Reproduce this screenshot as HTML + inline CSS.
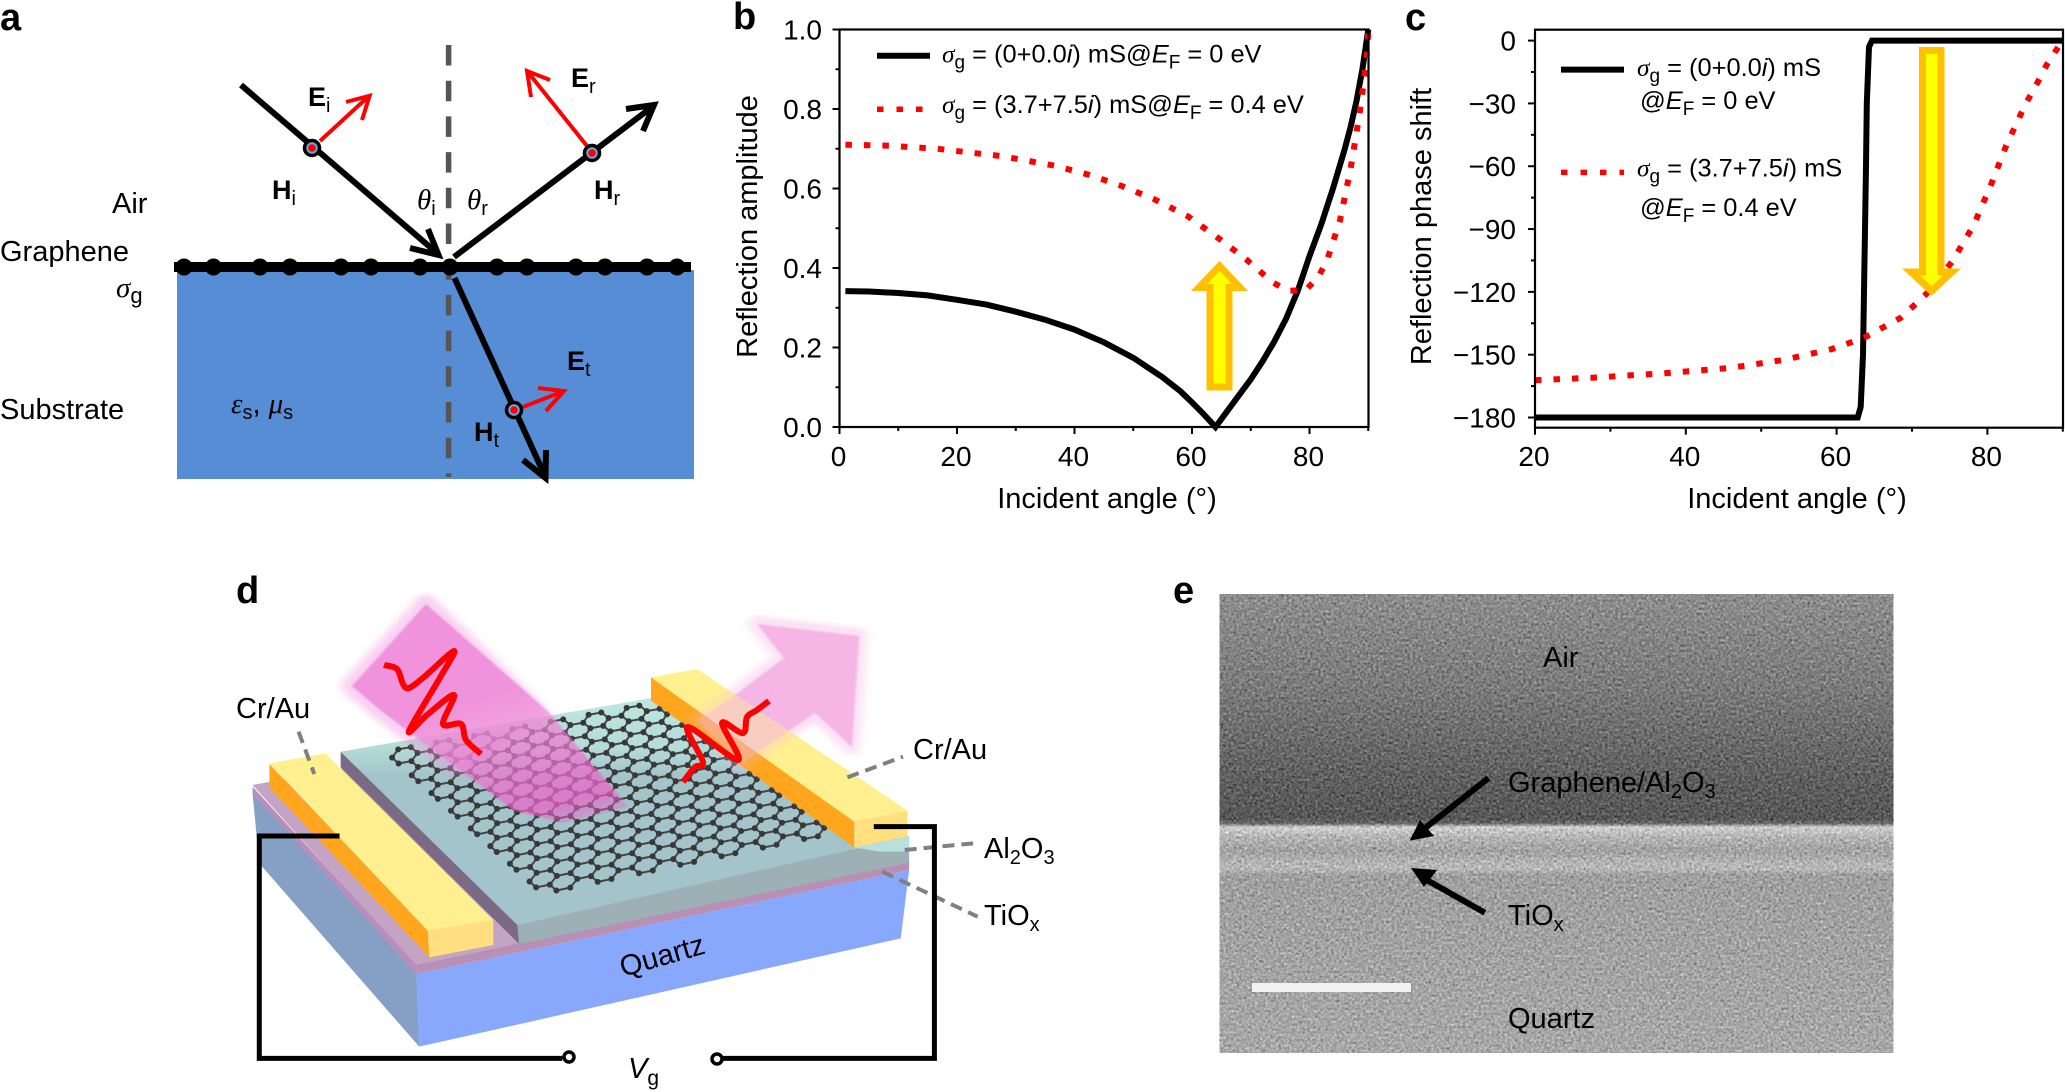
<!DOCTYPE html>
<html lang="en">
<head>
<meta charset="utf-8">
<title>Graphene reflection figure</title>
<style>
html,body{margin:0;padding:0;background:#fff;}
svg{display:block;}
text{font-family:"Liberation Sans",sans-serif;fill:#000;}
.s{font-family:"Liberation Serif",serif;font-style:italic;}
.i{font-style:italic;}
.lab{font-size:38px;font-weight:bold;}
.t{font-size:29px;}
.e{font-size:27px;font-weight:bold;}
.tick{font-size:28px;}
.leg{font-size:25.4px;}
</style>
</head>
<body>
<svg xmlns="http://www.w3.org/2000/svg" width="2065" height="1092" viewBox="0 0 2065 1092">
<defs>
<filter id="halo" x="-30%" y="-30%" width="160%" height="160%"><feGaussianBlur stdDeviation="9 6"/></filter>
<filter id="soft" x="-10%" y="-10%" width="120%" height="120%"><feGaussianBlur stdDeviation="2 2.5"/></filter>
<linearGradient id="beam" gradientUnits="userSpaceOnUse" x1="370" y1="100" x2="690" y2="780">
<stop offset="0" stop-color="#f093dc"/><stop offset=".4" stop-color="#f093dc"/><stop offset=".5" stop-color="#ee88d6" stop-opacity=".7"/><stop offset=".86" stop-color="#ea62c8" stop-opacity=".74"/><stop offset="1" stop-color="#ea62c8" stop-opacity="0"/>
</linearGradient>
<linearGradient id="alo" gradientUnits="userSpaceOnUse" x1="0" y1="400" x2="0" y2="620">
<stop offset="0" stop-color="#bce6df"/><stop offset=".6" stop-color="#b4dcd8"/><stop offset="1" stop-color="#a2c4ca"/>
</linearGradient>
<linearGradient id="sem" x1="0" y1="0" x2="0" y2="1">
<stop offset="0" stop-color="#8e8e8e"/><stop offset=".2" stop-color="#7c7c7c"/><stop offset=".4" stop-color="#606060"/><stop offset=".49" stop-color="#585858"/><stop offset=".5" stop-color="#6a6a6a"/><stop offset=".508" stop-color="#d0d0d0"/><stop offset=".53" stop-color="#b5b5b5"/><stop offset=".56" stop-color="#a2a2a2"/><stop offset=".585" stop-color="#b5b5b5"/><stop offset=".6" stop-color="#b8b8b8"/><stop offset=".612" stop-color="#a0a0a0"/><stop offset="1" stop-color="#a8a8a8"/>
</linearGradient>
<filter id="grain" x="0" y="0" width="100%" height="100%" color-interpolation-filters="sRGB">
<feTurbulence type="fractalNoise" baseFrequency=".38" numOctaves="2" seed="4" result="n"/>
<feColorMatrix in="n" type="matrix" values=".33 .33 .33 0 0 .33 .33 .33 0 0 .33 .33 .33 0 0 0 0 0 0 1" result="g"/>
<feComposite in="SourceGraphic" in2="g" operator="arithmetic" k1="0" k2="1" k3=".8" k4="-.4"/>
</filter>
</defs>

<!-- PANEL A -->
<g id="panel-a">
<text class="lab" x="0" y="30">a</text>
<rect x="177" y="270" width="517" height="209" fill="#568dd5"/>
<line x1="448.6" y1="45" x2="448.6" y2="477" stroke="#555" stroke-width="5.5" stroke-dasharray="20.5 15.2"/>
<line x1="174" y1="267" x2="691" y2="267" stroke="#000" stroke-width="10"/>
<g id="graphene-dots" fill="#000"></g>
<g fill="none" stroke="#000" stroke-width="6">
<path d="M241 85L437 253"/>
<path d="M410 248L438.500 255L428 229"/>
<path d="M454 257L652 107"/>
<path d="M626 109L654 105L643 131"/>
<path d="M454.500 278L545 476"/>
<path d="M523 460L545.500 478L546 450"/>
</g>
<g fill="none" stroke="#f00" stroke-width="4">
<path d="M320 141L369 96M346 102L369.600 95.700L362 120"/>
<path d="M587 146L527 71M550 80L527 71L531 97"/>
<path d="M523 407L564 391M538 388L564 391L546 411"/>
</g>
<g stroke="#000" stroke-width="3.500">
<circle cx="312" cy="148" r="7.500" fill="#6ea6e0"/>
<circle cx="592" cy="153" r="7.500" fill="#6ea6e0"/>
<circle cx="514" cy="410" r="7.500" fill="#6ea6e0"/>
</g>
<circle cx="312" cy="148" r="3.800" fill="#f00"/>
<circle cx="592" cy="153" r="3.800" fill="#f00"/>
<circle cx="514" cy="410" r="3.800" fill="#f00"/>
<text class="e" x="308" y="106">E<tspan dy="6" font-size="20" font-weight="normal">i</tspan></text>
<text class="e" x="571" y="87">E<tspan dy="6" font-size="20" font-weight="normal">r</tspan></text>
<text class="e" x="567" y="370">E<tspan dy="6" font-size="20" font-weight="normal">t</tspan></text>
<text class="e" x="272" y="199">H<tspan dy="6" font-size="20" font-weight="normal">i</tspan></text>
<text class="e" x="594" y="199">H<tspan dy="6" font-size="20" font-weight="normal">r</tspan></text>
<text class="e" x="474" y="441">H<tspan dy="6" font-size="20" font-weight="normal">t</tspan></text>
<text class="t" x="417" y="209"><tspan class="s">θ</tspan><tspan dy="6" font-size="20">i</tspan></text>
<text class="t" x="467" y="209"><tspan class="s">θ</tspan><tspan dy="6" font-size="20">r</tspan></text>
<text class="t" x="112" y="213">Air</text>
<text class="t" x="0" y="261">Graphene</text>
<text class="t" x="116" y="297"><tspan class="s">σ</tspan><tspan dy="6" font-size="22">g</tspan></text>
<text class="t" x="0" y="419">Substrate</text>
<text class="t" x="231" y="413"><tspan class="s">ε</tspan><tspan dy="6" font-size="20">s</tspan><tspan dy="-6">, </tspan><tspan class="s">μ</tspan><tspan dy="6" font-size="20">s</tspan></text>
</g>

<!-- PANEL B -->
<g id="panel-b">
<text class="lab" x="733" y="29">b</text>
<g id="b-axes"></g>
<path id="b-black" fill="none" stroke="#000" stroke-width="6"/>
<path id="b-red" fill="none" stroke="#f00" stroke-width="6" stroke-dasharray="6.500 12"/>
<rect x="839.500" y="29.500" width="529" height="397.500" fill="none" stroke="#000" stroke-width="2.200"/>
<line x1="877" y1="55.800" x2="930" y2="55.800" stroke="#000" stroke-width="6"/>
<line x1="877" y1="109.200" x2="925" y2="109.200" stroke="#f00" stroke-width="5.500" stroke-dasharray="6.500 13"/>
<text class="leg" x="942" y="62.500"><tspan class="s">σ</tspan><tspan dy="6" font-size="19">g</tspan><tspan dy="-6"> = (0+0.0</tspan><tspan class="i">i</tspan><tspan>) mS@</tspan><tspan class="i">E</tspan><tspan dy="6" font-size="19">F</tspan><tspan dy="-6"> = 0 eV</tspan></text>
<text class="leg" x="942" y="113"><tspan class="s">σ</tspan><tspan dy="6" font-size="19">g</tspan><tspan dy="-6"> = (3.7+7.5</tspan><tspan class="i">i</tspan><tspan>) mS@</tspan><tspan class="i">E</tspan><tspan dy="6" font-size="19">F</tspan><tspan dy="-6"> = 0.4 eV</tspan></text>
<path d="M1219.600 266L1240 287.500H1229V387H1210V287.500H1199Z" fill="#ffff00" stroke="#ffc000" stroke-width="7"/>
<text class="t" x="1107" y="508" text-anchor="middle">Incident angle (°)</text>
<text class="t" transform="translate(757 226.500) rotate(-90)" text-anchor="middle">Reflection amplitude</text>
</g>

<!-- PANEL C -->
<g id="panel-c">
<text class="lab" x="1405" y="30">c</text>
<g id="c-axes"></g>
<path id="c-black" fill="none" stroke="#000" stroke-width="6"/>
<path id="c-red" fill="none" stroke="#f00" stroke-width="6" stroke-dasharray="6.500 12"/>
<rect x="1535" y="29.700" width="528" height="398" fill="none" stroke="#000" stroke-width="2.200"/>
<line x1="1561" y1="69.600" x2="1624" y2="69.600" stroke="#000" stroke-width="6"/>
<line x1="1561" y1="172.400" x2="1624" y2="172.400" stroke="#f00" stroke-width="5.500" stroke-dasharray="6.500 13"/>
<text class="leg" x="1637" y="76"><tspan class="s">σ</tspan><tspan dy="6" font-size="19">g</tspan><tspan dy="-6"> = (0+0.0</tspan><tspan class="i">i</tspan><tspan>) mS</tspan></text>
<text class="leg" x="1640" y="109">@<tspan class="i">E</tspan><tspan dy="6" font-size="19">F</tspan><tspan dy="-6"> = 0 eV</tspan></text>
<text class="leg" x="1637" y="176.500"><tspan class="s">σ</tspan><tspan dy="6" font-size="19">g</tspan><tspan dy="-6"> = (3.7+7.5</tspan><tspan class="i">i</tspan><tspan>) mS</tspan></text>
<text class="leg" x="1640" y="216">@<tspan class="i">E</tspan><tspan dy="6" font-size="19">F</tspan><tspan dy="-6"> = 0.4 eV</tspan></text>
<path d="M1931.500 291L1911 272H1922.500V50.500H1941V272H1952Z" fill="#ffff00" stroke="#ffc000" stroke-width="7"/>
<text class="t" x="1797" y="508" text-anchor="middle">Incident angle (°)</text>
<text class="t" transform="translate(1431 226.500) rotate(-90)" text-anchor="middle">Reflection phase shift</text>
</g>

<!-- PANEL D -->
<g id="panel-d">
<text class="lab" x="236" y="603">d</text>
<g transform="translate(220 570) scale(.5612 .33333)">
<polygon points="58,670 350,1205 355,1430 70,880" fill="#85a0c4"/>
<polygon points="350,1212 1228,900 1213,1105 355,1430" fill="#88a8fe"/>
<polygon points="58,645 400,540 1228,880 350,1190" fill="#c4a4c4"/>
<polygon points="58,650 350,1185 350,1212 58,672" fill="#b78fba"/>
<polygon points="350,1185 1228,875 1228,900 350,1212" fill="#b88fb5"/>
<polygon points="215,545 215,592 533,1122 530,1065" fill="#7b6a85"/>
<polygon points="530,1065 1228,800 1228,878 533,1122" fill="#9cb0b6"/>
<polygon points="215,545 790,378 1228,800 530,1065" fill="url(#alo)"/>
<polygon points="1130,832 1228,800 1228,845 1175,845" fill="#b8e0dc"/>
<polygon points="88,582 370,1082 373,1162 88,652" fill="#ffa61e"/>
<polygon points="370,1082 487,1050 487,1125 373,1162" fill="#ffdf80"/>
<polygon points="88,580 188,550 487,1050 370,1082" fill="#fff08f"/>
<polygon points="768,322 1130,755 1130,832 768,392" fill="#ffa61e"/>
<polygon points="1130,755 1225,722 1225,800 1130,832" fill="#ffdf80"/>
<polygon points="768,322 850,297 1225,722 1130,755" fill="#fff08f"/>
</g>
<g id="lattice"></g>
<g transform="translate(220 570) scale(.5612 .33333)">
<polygon points="957,162 1139,198 1126,531 1060,429 930,580 850,450 904,393 1005,264" fill="#f5b8e6" stroke="#f5b8e6" stroke-width="16" vector-effect="non-scaling-stroke" stroke-linejoin="round" opacity=".42" filter="url(#halo)"/>
<polygon points="957,162 1139,198 1126,531 1060,429 930,580 850,450 904,393 1005,264" fill="#f5b5e5" filter="url(#soft)"/>
<polygon points="768,322 1130,755 1130,832 768,392" fill="#ffa61e" opacity=".5"/>
<polygon points="768,322 850,297 1225,722 1130,755" fill="#fff08f" opacity=".42"/>
<polygon points="367,102 235,348 285,420 420,590 560,420" fill="#f093dc" stroke="#f093dc" stroke-width="20" vector-effect="non-scaling-stroke" stroke-linejoin="round" opacity=".42" filter="url(#halo)"/>
<polygon points="367,102 235,348 285,420 522,720 611,759 727,711 588,429" fill="url(#beam)" filter="url(#soft)"/>
<g fill="none" stroke="#808080" stroke-width="4" stroke-dasharray="12 7">
<line x1="140" y1="485" x2="168" y2="612" vector-effect="non-scaling-stroke"/>
<line x1="1118" y1="622" x2="1217" y2="560" vector-effect="non-scaling-stroke"/>
<line x1="1220" y1="840" x2="1342" y2="820" vector-effect="non-scaling-stroke"/>
<line x1="1180" y1="905" x2="1350" y2="1040" vector-effect="non-scaling-stroke"/>
</g>
<polyline points="213,798 70,798 70,1465 610,1465" fill="none" stroke="#000" stroke-width="5" vector-effect="non-scaling-stroke"/>
<polyline points="1165,770 1273,770 1273,1465 895,1465" fill="none" stroke="#000" stroke-width="5" vector-effect="non-scaling-stroke"/>
</g>
<path id="wave-in" fill="none" stroke="#f00" stroke-width="6" stroke-linejoin="round"/>
<path id="wave-out" fill="none" stroke="#f00" stroke-width="6" stroke-linejoin="round"/>
<circle cx="569" cy="1057" r="5" fill="#fff" stroke="#000" stroke-width="3.500"/>
<circle cx="717" cy="1059" r="5" fill="#fff" stroke="#000" stroke-width="3.500"/>
<text class="t" x="236" y="718" font-size="28">Cr/Au</text>
<text class="t" x="913" y="759" font-size="28">Cr/Au</text>
<text class="t" x="984" y="858">Al<tspan dy="6" font-size="20">2</tspan><tspan dy="-6">O</tspan><tspan dy="6" font-size="20">3</tspan></text>
<text class="t" x="984" y="925">TiO<tspan dy="6" font-size="20">x</tspan></text>
<text class="t" transform="translate(623 977) rotate(-16)">Quartz</text>
<text class="t" x="628" y="1078"><tspan class="i">V</tspan><tspan dy="7" font-size="21">g</tspan></text>
</g>

<!-- PANEL E -->
<g id="panel-e">
<text class="lab" x="1173" y="603">e</text>
<rect x="1219.500" y="594" width="674" height="459" fill="url(#sem)" filter="url(#grain)"/>
<rect x="1252" y="983" width="159" height="9" fill="#f2f2f2"/>
<text class="t" x="1543" y="667">Air</text>
<text class="t" x="1508" y="792">Graphene/Al<tspan dy="6" font-size="20">2</tspan><tspan dy="-6">O</tspan><tspan dy="6" font-size="20">3</tspan></text>
<text class="t" x="1508" y="925">TiO<tspan dy="6" font-size="20">x</tspan></text>
<text class="t" x="1508" y="1028">Quartz</text>
<line x1="1488.500" y1="778" x2="1424" y2="829" stroke="#000" stroke-width="6"/>
<polygon points="1409.600,840.700 1420,820 1434,836" fill="#000"/>
<line x1="1484.800" y1="912.700" x2="1425" y2="879" stroke="#000" stroke-width="6"/>
<polygon points="1411,868 1437,870 1424,887" fill="#000"/>
</g>
</svg>

<script>
const bBlackAngles = [1,5,10,15,20,25,30,35,40,45,50,55,58,60,62,64,66,68,70,72,74,76,78,80,81,82,83,84,85,86,87,88,89,90];
const bBlackValues = [0.342,0.341,0.337,0.331,0.320,0.308,0.290,0.270,0.245,0.213,0.174,0.125,0.090,0.062,0.032,0,0.040,0.080,0.120,0.165,0.215,0.272,0.343,0.430,0.470,0.510,0.555,0.600,0.650,0.700,0.755,0.820,0.900,1.000];
const bRedAngles = [1,8,16.7,27.8,36.7,42.6,48.1,53.7,59.3,64.6,69.3,73.7,76.3,79.3,81.5,83,85.2,87,88.5,89.6,90];
const bRedValues = [0.710,0.708,0.700,0.681,0.657,0.634,0.606,0.572,0.530,0.474,0.421,0.364,0.343,0.344,0.377,0.420,0.520,0.650,0.785,0.910,0.990];
const bXTicks = [0,20,40,60,80];
const bXMinor = [10,30,50,70,90];
const bYTicks = [0,0.2,0.4,0.6,0.8,1];
const bYLabels = ['0.0','0.2','0.4','0.6','0.8','1.0'];
const bYMinor = [0.1,0.3,0.5,0.7,0.9];

const cBlackAngles = [20,62.8,63.2,63.5,63.9,64,64.3,64.7,90];
const cBlackValues = [-180,-180,-175,-150,-60,-30,-3,0,0];
const cRedAngles = [20,27.6,36.7,45.9,53,59.3,63.6,68.5,71.9,75.3,78.2,80.5,82.5,85,86.5,87.9,89.8];
const cRedValues = [-162.2,-161,-159,-156.3,-152.5,-147.4,-142,-132.4,-121,-105.7,-88,-68.6,-50,-30.7,-21,-11.3,-0.8];
const cXTicks = [20,40,60,80];
const cXMinor = [30,50,70,90];
const cYTicks = [0,-30,-60,-90,-120,-150,-180];
const cYLabels = ['0','−30','−60','−90','−120','−150','−180'];
const cYMinor = [-15,-45,-75,-105,-135,-165];

const grapheneDotX = [184,213.5,260,290,341,371,420,450,497,527,576,605,647,677];

const NS = 'http://www.w3.org/2000/svg';
function bx(v){ return 839.5 + v * 5.875; }
function by(v){ return 427 - v * 397.5; }
function cx(v){ return 1535 + (v - 20) * 7.54; }
function cy(v){ return 40.6 - v * (376.9 / 180); }

function linePath(xs, ys, fx, fy){
  return xs.map(function(x, i){ return (i ? 'L' : 'M') + fx(x).toFixed(1) + ' ' + fy(ys[i]).toFixed(1); }).join('');
}
function drawTick(parent, x1, y1, x2, y2){
  const t = document.createElementNS(NS, 'line');
  t.setAttribute('x1', x1);
  t.setAttribute('y1', y1);
  t.setAttribute('x2', x2);
  t.setAttribute('y2', y2);
  t.setAttribute('stroke', '#000');
  t.setAttribute('stroke-width', '2');
  
  
  parent.appendChild(t);
}
function drawLabel(parent, x, y, s, anchor){
  const t = document.createElementNS(NS, 'text');
  t.setAttribute('x', x);
  t.setAttribute('y', y);
  t.setAttribute('class', 'tick');
  t.setAttribute('text-anchor', anchor);
  
  
  t.textContent = s;
  parent.appendChild(t);
}
function drawAxes(id, fx, fy, xTicks, xMinor, yTicks, yLabels, yMinor, bottom, left, labelRight){
  const g = document.getElementById(id);
  xTicks.forEach(function(v){
    drawTick(g, fx(v), bottom, fx(v), bottom + 7);
    drawLabel(g, fx(v) - 1, 466, String(v), 'middle');
  });
  xMinor.forEach(function(v){ drawTick(g, fx(v), bottom, fx(v), bottom + 4); });
  yTicks.forEach(function(v, i){
    drawTick(g, left - 7, fy(v), left, fy(v));
    drawLabel(g, labelRight, fy(v) + 10, yLabels[i], 'end');
  });
  yMinor.forEach(function(v){ drawTick(g, left - 4, fy(v), left, fy(v)); });
}

drawAxes('b-axes', bx, by, bXTicks, bXMinor, bYTicks, bYLabels, bYMinor, 427, 839.5, 822);
drawAxes('c-axes', cx, cy, cXTicks, cXMinor, cYTicks, cYLabels, cYMinor, 427.7, 1535, 1516);
document.getElementById('b-black').setAttribute('d', linePath(bBlackAngles, bBlackValues, bx, by));
document.getElementById('b-red').setAttribute('d', linePath(bRedAngles, bRedValues, bx, by));
document.getElementById('c-black').setAttribute('d', linePath(cBlackAngles, cBlackValues, cx, cy));
document.getElementById('c-red').setAttribute('d', linePath(cRedAngles, cRedValues, cx, cy));

grapheneDotX.forEach(function(x){
  const c = document.createElementNS(NS, 'circle');
  c.setAttribute('cx', x);
  c.setAttribute('cy', 267);
  c.setAttribute('r', 8.5);
  
  
  document.getElementById('graphene-dots').appendChild(c);
});

function smoothPath(p){
  let d = 'M' + p[0][0] + ' ' + p[0][1];
  for (let i = 0; i < p.length - 1; i++) {
    const a = p[Math.max(i - 1, 0)], b = p[i], c = p[i + 1], e = p[Math.min(i + 2, p.length - 1)];
    d += 'C' + (b[0] + (c[0] - a[0]) / 6).toFixed(1) + ' ' + (b[1] + (c[1] - a[1]) / 6).toFixed(1) + ' ' +
         (c[0] - (e[0] - b[0]) / 6).toFixed(1) + ' ' + (c[1] - (e[1] - b[1]) / 6).toFixed(1) + ' ' + c[0] + ' ' + c[1];
  }
  return d;
}
document.getElementById('wave-in').setAttribute('d', smoothPath([[384,665],[397,669],[403,684],[409,688],[424,677],[454,651],[441,676],[409,731],[427,715],[454,695],[443,724],[461,724],[466,740],[481,754]]));
document.getElementById('wave-out').setAttribute('d', smoothPath([[769,701],[757,710],[747,717],[743,733],[722,723],[738,760],[688,727],[703,762],[695,767],[683,782]]));

(function(){
  const Ns = 8, Nt = 7;
  function zr(p){ return [220 + p[0] / 1.782, 570 + p[1] / 3]; }
  const A = zr([295,545]), B = zr([575,970]), C = zr([770,400]), D = zr([1090,790]);
  function P(s, t){
    const u = s / Ns, v = t / Nt;
    return [
      (1-u)*(1-v)*A[0] + u*(1-v)*B[0] + (1-u)*v*C[0] + u*v*D[0],
      (1-u)*(1-v)*A[1] + u*(1-v)*B[1] + (1-u)*v*C[1] + u*v*D[1]
    ];
  }
  const off = [[0,1/3],[1/3,0],[1/3,-1/3],[0,-1/3],[-1/3,0],[-1/3,1/3]];
  const order = [1,0,5,4,3,2];
  let d = '';
  const seen = {};
  const atoms = [];
  for (let i = -30; i <= 40; i++) {
    for (let j = -30; j <= 40; j++) {
      const s0 = (i + 2 * j) / 3, t0 = (i - j) / 3;
      if (s0 < 0.1 || s0 > Ns - 0.1 || t0 < 0.1 || t0 > Nt - 0.3) continue;
      order.forEach(function(k, n){
        const s = s0 + off[k][0], t = t0 + off[k][1];
        const p = P(s, t);
        d += (n ? 'L' : 'M') + p[0].toFixed(1) + ' ' + p[1].toFixed(1);
        const key = Math.round(s * 3) + '_' + Math.round(t * 3);
        if (!seen[key]) { seen[key] = 1; atoms.push(p); }
      });
      d += 'Z';
    }
  }
  const g = document.getElementById('lattice');
  const path = document.createElementNS(NS, 'path');
  path.setAttribute('d', d);
  path.setAttribute('fill', 'none');
  path.setAttribute('stroke', '#444');
  path.setAttribute('stroke-width', '2');
  
  
  g.appendChild(path);
  atoms.forEach(function(p){
    const c = document.createElementNS(NS, 'circle');
    c.setAttribute('cx', p[0].toFixed(1));
    c.setAttribute('cy', p[1].toFixed(1));
    c.setAttribute('r', '3');
    c.setAttribute('fill', '#383838');
    
    
    g.appendChild(c);
  });
})();
</script>
</body>
</html>
